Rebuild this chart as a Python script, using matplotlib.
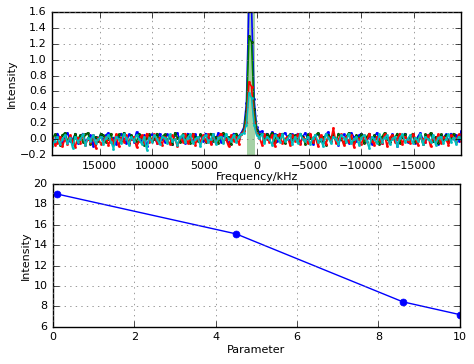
import matplotlib
matplotlib.use("Agg")
import matplotlib.pyplot as plt
import numpy as np

# spectra, intensity in hundredths, sampled evenly from +19531 to -19531 kHz
blue = [4, -3, 7, 2, -6, 3, 8, -2, 0, 6, -5, 3, 7, -3, 1, 5, -8, 3, 0, 6,
        -2, 5, 8, -3, 2, -6, 3, 7, 0, -5, 6, 2, -3, 9, 3, -2, 5, -9, 2, 6,
        3, -5, 7, 0, -3, 6, 2, -6, 5, 8, -2, 3, -5, 7, 2, -3, 6, 0, 5, -2,
        7, 3, -5, 6, 0, 8, -3, 5, 2, -6, 3, 7, 5, 4, 8, 15, 45, 175, 165, 50,
        15, 9, 10, 4, 7, 3, 9, 6, -2, 7, 5, 8, 3, -3, 6, 2, 7, -5, 3, 8,
        0, 5, -6, 3, 7, 2, -3, 6, 9, -2, 5, 0, -7, 3, 6, 2, -5, 8, 3, -2,
        5, 7, -3, 2, 6, -6, 3, 8, 0, -5, 7, 3, -2, 6, 2, -9, 5, 3, 7, -3,
        2, 6, -5, 3, 8, 0, -3, 5, 7, -2, 3, -6, 5, 2, 6, -3, 7, 0, 5, -2, 10]
green = [-3, 6, 2, -7, 5, 8, -2, 3, -5, 7, 0, 5, -3, 6, 8, -6, 2, 3, -2, 7,
         5, -3, 0, 7, -6, 3, 6, -2, 8, 2, -5, 5, 0, -3, 7, 3, -7, 2, 6, -2,
         0, 7, -5, 3, 6, -2, 5, -6, 8, 2, -3, 6, 0, 5, -5, 7, 3, -2, 6, 2,
         -3, 5, 7, -2, 3, -5, 6, 8, 0, 3, -6, 5, 7, 2, 6, 12, 35, 130, 122, 38,
         12, 5, 7, -2, 6, 3, 8, -3, 5, 2, 7, -5, 3, 6, 0, 5, -2, 7, 3, -6,
         6, 2, -3, 5, 8, -2, 3, -7, 5, 2, 6, -3, 7, 0, -5, 3, 8, 2, -3, 5,
         0, 6, -5, 3, 7, -2, 5, 2, -6, 3, 8, 0, -3, 5, 2, 7, -5, 3, 6, -2,
         3, 7, -3, 0, 5, -6, 6, 2, 8, -2, 3, -5, 6, 0, 5, -3, 2, 7, -2, 3, 0]
red = [2, -7, -5, 3, -9, 0, -6, 5, -3, -10, 2, -5, 6, -7, 0, -3, 5, -11, 2, -6,
       -3, 3, -7, 0, -5, 6, -9, 2, -3, 5, -6, 0, 3, -10, -2, 5, -5, 7, -3, 0,
       6, -5, 2, -7, 3, -2, -6, 5, 0, -9, 3, -3, 7, -5, 0, 6, -7, 2, -3, 5,
       -2, 6, -6, 3, -5, 2, 7, -3, 0, -9, 5, -2, 3, -6, 7, 10, 22, 72, 66, 22,
       6, 3, -7, 6, 0, -3, 5, -9, 2, 7, -5, 0, 3, -7, 5, -2, 6, -6, 2, 0,
       -5, 7, -3, 2, -9, 5, 0, -6, 3, -2, 14, -5, 0, 6, -7, 3, -3, 5, -10, 2,
       0, -6, 5, -3, 7, -2, -7, 3, 0, -5, 6, -9, 2, 5, -3, 0, 7, -6, 3, -2,
       -5, 6, 2, -7, 3, 0, -3, 5, -9, 2, -2, 6, -5, 3, 0, -7, 5, 2, -3, 6, -2]
cyan = [-9, -2, 3, -6, 0, 5, -5, 2, -11, 3, -3, 0, 6, -7, 2, -2, 5, -5, 0, 3,
        -6, 2, 5, -3, -12, 3, 0, -5, 6, 2, -7, 3, -2, 5, 0, -6, 3, -13, 2, -3,
        5, 0, -6, 3, 2, -5, 6, -2, 0, -7, 3, 5, -3, 2, 6, -5, 0, 3, -9, 2,
        5, -3, 0, 6, -6, 2, 3, -5, 7, 0, -2, 5, -3, 3, 6, 8, 18, 58, 52, 18,
        5, 2, 6, -5, 3, 0, -7, 5, 2, -3, 6, -2, 0, 5, -6, 3, -5, 7, 0, -2,
        3, -6, 2, 5, -3, 0, -9, 6, 2, -5, 3, 0, -6, 5, 2, -3, 7, -5, 0, 3,
        -7, 2, 5, -2, -11, 3, 0, -5, 6, -3, 2, 5, -6, 0, 3, -9, 2, 6, -3, 0,
        5, -5, 2, -2, 6, -6, 3, 0, -3, 5, -7, 2, 3, -5, 0, 6, -3, 2, -6, 3, 0]
freq_span = (19531, -19531)
window = (880, 190)  # integration window, kHz

param = [0.1, 4.5, 8.6, 10.0]
intensity = [19.0, 15.1, 8.45, 7.2]

plt.style.use('classic')
plt.rcParams['font.size'] = 8

fig = plt.figure(figsize=(4.74, 3.64), dpi=100)
fig.patch.set_facecolor('white')

ax1 = fig.add_axes([0.110, 0.574, 0.863, 0.393])
freq = np.linspace(freq_span[0], freq_span[1], len(blue))
for ys, c in [(blue, 'b'), (green, 'g'), (red, 'r'), (cyan, 'c')]:
    ax1.plot(freq, np.array(ys) / 100.0, color=c, lw=1.2, marker='.',
             ms=3, mec='#003300' if c == 'g' else c)
ax1.axvspan(window[0], window[1], color='g', alpha=0.35, lw=0)
ax1.set_xlim(freq_span)
ax1.set_ylim(-0.2, 1.6)
ax1.set_xticks([15000, 10000, 5000, 0, -5000, -10000, -15000])
ax1.set_yticks(np.arange(-0.2, 1.61, 0.2))
ax1.grid(True, color='0.45')
ax1.set_xlabel('Frequency/kHz', labelpad=1)
ax1.set_ylabel('Intensity')
ax1.yaxis.set_label_coords(-0.085, 0.5)

ax2 = fig.add_axes([0.112, 0.102, 0.858, 0.393])
ax2.plot(param, intensity, color='b', lw=1.0, marker='o', ms=5, mec='b')
ax2.set_xlim(0, 10)
ax2.set_ylim(6, 20)
ax2.grid(True, color='0.45')
ax2.set_xlabel('Parameter', labelpad=2)
ax2.set_ylabel('Intensity')
ax2.yaxis.set_label_coords(-0.054, 0.5)

fig.savefig('out.png', dpi=100, facecolor='white')
